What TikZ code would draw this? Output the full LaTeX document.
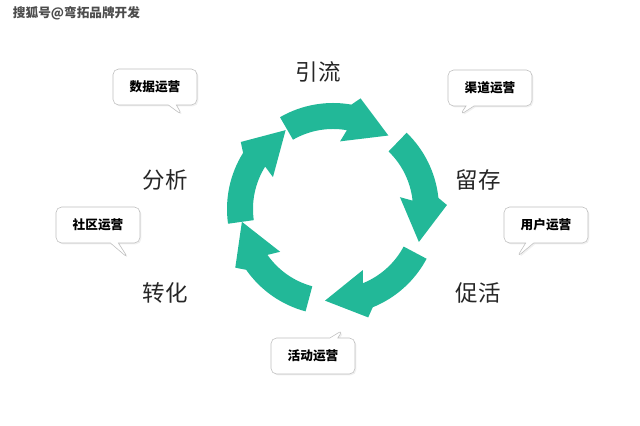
\documentclass[tikz,border=0pt]{standalone}
\usepackage{fontspec}
\newfontfamily\cjk{Noto Sans CJK SC}
\usetikzlibrary{shapes.callouts,shadows}
\usepackage{xcolor}
\definecolor{loopteal}{RGB}{34,184,152}

\begin{document}
\begin{tikzpicture}[x=0.025cm,y=0.025cm,
    stage/.style={font=\cjk\fontsize{16}{16}\selectfont, text=black!85},
    tipbox/.style={rectangle callout, draw=black!25, fill=white, rounded corners=4pt,
        minimum width=2.1cm, minimum height=0.9cm, inner sep=2pt,
        callout pointer width=0.2cm,
        drop shadow={opacity=0.12, shadow xshift=1pt, shadow yshift=-1pt},
        font=\cjk\bfseries\fontsize{9}{9}\selectfont}]
            \useasboundingbox (0,0) rectangle (640,426);
            % watermark
            \node[anchor=west, text=black!70, font=\cjk\bfseries\fontsize{9}{9}\selectfont] (mark) at (8,413) {搜狐号@弯拓品牌开发};

            % cycle of five arrows
            \foreach \s in {120,46,-28,-105,-172} {
                \fill[loopteal, shift={(333,217)}]
                    (\s:106) arc (\s:\s-40:106) -- (\s-44:114) -- (\s-67:92)
                    -- (\s-36:68) -- (\s-40:80) arc (\s-40:\s:80) -- cycle;
            }

            % stages
            \node[stage] (yinliu) at (318,354) {引流};
            \node[stage] (liucun) at (478,246) {留存};
            \node[stage] (cuhuo) at (478,133) {促活};
            \node[stage] (zhuanhua) at (165,133) {转化};
            \node[stage] (fenxi) at (165,246) {分析};

            % callouts
            \node[tipbox, callout absolute pointer={(182,311)}] (shuju) at (155,339) {数据运营};
            \node[tipbox, callout absolute pointer={(460,311)}] (qudao) at (490,338) {渠道运营};
            \node[tipbox, callout absolute pointer={(128,168)}] (shequ) at (98,201) {社区运营};
            \node[tipbox, callout absolute pointer={(517,169)}] (yonghu) at (546,201) {用户运营};
            \node[tipbox, callout absolute pointer={(343,96)}] (huodong) at (313,70) {活动运营};
        \end{tikzpicture}
\end{document}
